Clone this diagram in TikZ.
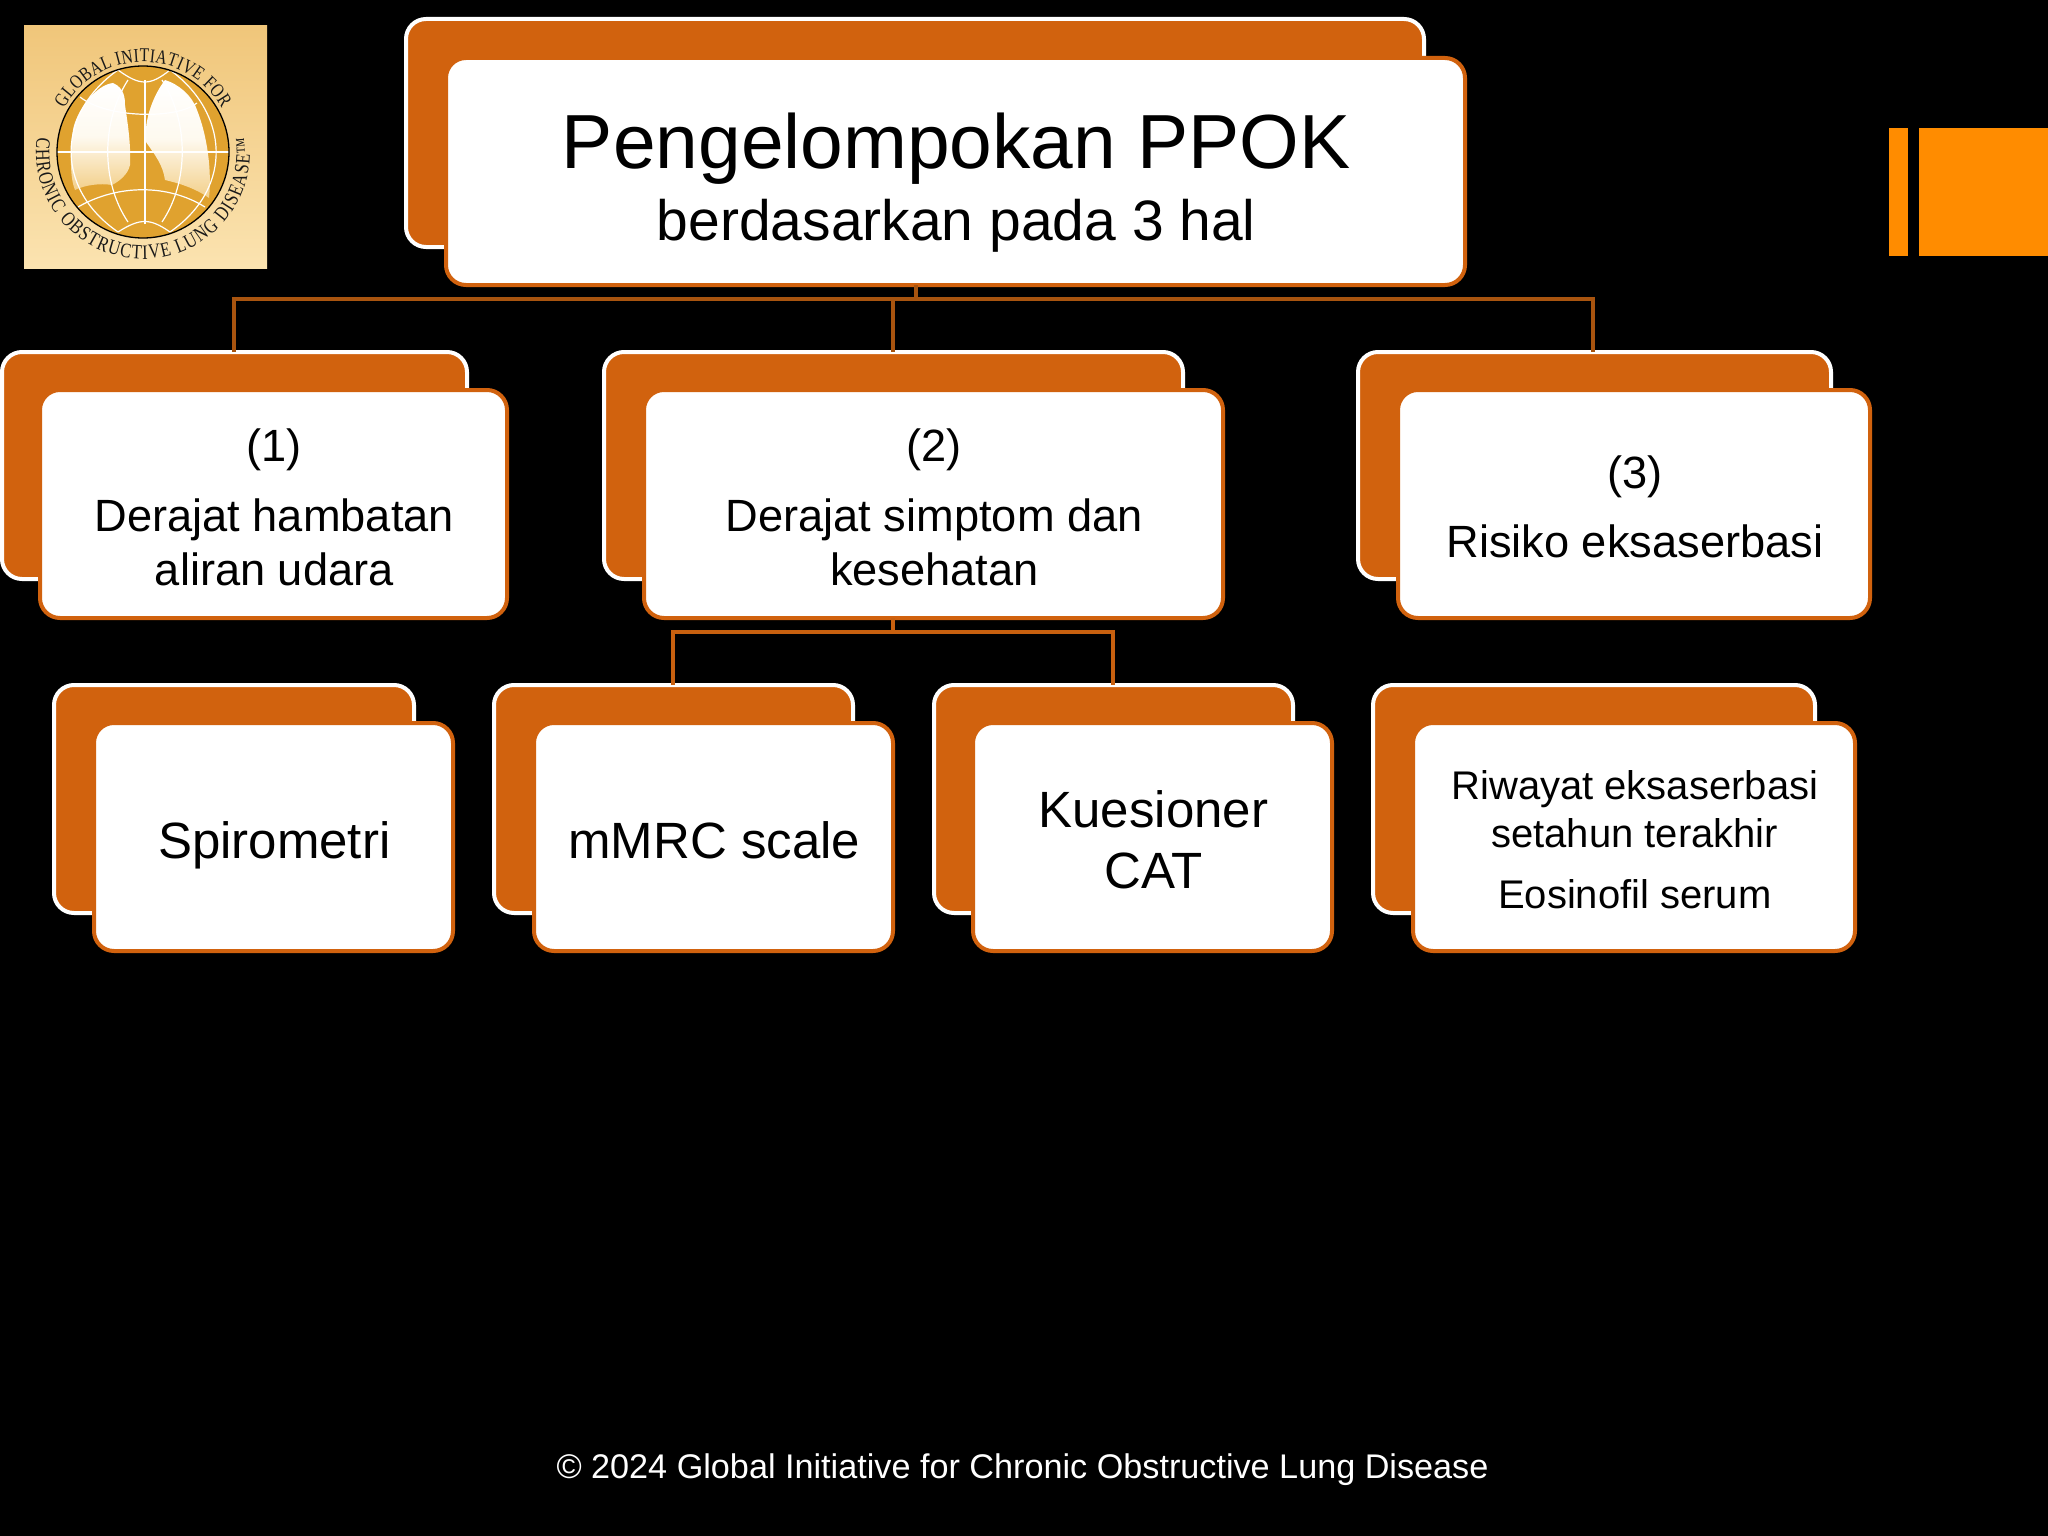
\documentclass[tikz,border=0pt]{standalone}
\usepackage{fontspec}
\setmainfont{Liberation Sans}
\newfontfamily\logofont[FakeStretch=0.8]{Liberation Serif}
\usetikzlibrary{decorations.text,calc}
\definecolor{cardorange}{HTML}{D1620E}
\definecolor{busdark}{HTML}{A8540F}
\definecolor{busmid}{HTML}{C8600F}
\definecolor{barorange}{HTML}{FF8C00}
\definecolor{globegold}{HTML}{E0A22F}
\definecolor{logotop}{HTML}{F0C67A}
\definecolor{logobot}{HTML}{FBE3B0}
\tikzset{
  backcard/.style={draw=white,line width=4pt,fill=cardorange,rounded corners=20pt,inner sep=0pt,outer sep=0pt},
  frontcard/.style={draw=cardorange,line width=4pt,fill=white,rounded corners=20pt,inner sep=0pt,outer sep=0pt},
  cardtext/.style={align=center,text=black,inner sep=0pt},
  busline/.style={line width=4pt,line join=miter},
  gridline/.style={draw=white,line width=1.2pt},
  lung/.style={top color=white,bottom color=logobot!70!globegold,middle color=white!80!logobot},
}
% name, xl, xr, yt, yb
\newcommand\backbox[5]{\node[backcard,minimum width={(#3-#2)*1pt},minimum height={(#5-#4)*1pt}] (#1) at ({(#2+#3)/2},{(#4+#5)/2}) {};}
% name, xl, xr, yt, yb, font size, leading, text offset, text
\newcommand\frontbox[9]{\node[frontcard,minimum width={(#3-#2)*1pt},minimum height={(#5-#4)*1pt}] (#1) at ({(#2+#3)/2},{(#4+#5)/2}) {};
  \node[cardtext,font=\fontsize{#6}{#7}\selectfont] (#1T) at ({(#2+#3)/2+0.8},{(#4+#5)/2+#8}) {#9};}
\begin{document}
\begin{tikzpicture}[x=1pt,y=-1pt]
\useasboundingbox (0,0) rectangle (2048,1536);
\fill[black] (0,0) rectangle (2048,1536);
% side bars
\fill[barorange] (1889,128) rectangle (1908,256);
\fill[barorange] (1919,128) rectangle (2048,256);
% logo
\shade[top color=logotop,bottom color=logobot] (24,26) rectangle (267,268);
\begin{scope}[shift={(143,152)}]
  \fill[globegold] (0,0) circle[radius=86pt];
  \shade[lung] (-30pt,69pt) .. controls (-18pt,64pt) and (-18pt,52pt) .. (-18pt,47pt)
     .. controls (-15pt,27pt) and (-12pt,7pt) .. (-13pt,-13pt)
     .. controls (-15pt,-23pt) and (-25pt,-30pt) .. (-31pt,-33pt)
     .. controls (-43pt,-31pt) and (-58pt,-33pt) .. (-68pt,-38pt)
     .. controls (-73pt,-26pt) and (-73pt,-3pt) .. (-70pt,22pt)
     .. controls (-67pt,40pt) and (-48pt,67pt) .. (-30pt,69pt) -- cycle;
  \shade[lung] (22pt,72pt) .. controls (35pt,68pt) and (49pt,57pt) .. (54pt,42pt)
     .. controls (64pt,17pt) and (69pt,-18pt) .. (66pt,-46pt)
     .. controls (52pt,-36pt) and (35pt,-31pt) .. (22pt,-28pt)
     .. controls (20pt,-13pt) and (12pt,-3pt) .. (3pt,10pt)
     .. controls (1pt,27pt) and (7pt,52pt) .. (22pt,72pt) -- cycle;
  % grid
  \draw[gridline] (-86pt,0pt) -- (86pt,0pt);
  \draw[gridline] (2pt,-72pt) -- (2pt,72pt);
  \draw[gridline] (-25pt,82pt) .. controls (-3pt,66pt) and (7pt,66pt) .. (27pt,82pt);
  \draw[gridline] (-25pt,-80pt) .. controls (-3pt,-66pt) and (7pt,-66pt) .. (27pt,-80pt);
  \draw[gridline] (-25pt,-80pt) .. controls (-90pt,-35pt) and (-85pt,40pt) .. (-25pt,82pt);
  \draw[gridline] (27pt,-80pt) .. controls (92pt,-35pt) and (85pt,40pt) .. (27pt,82pt);
  \draw[gridline] (-15pt,-70pt) .. controls (-42pt,-30pt) and (-42pt,30pt) .. (-15pt,72pt);
  \draw[gridline] (19pt,-70pt) .. controls (46pt,-30pt) and (46pt,30pt) .. (19pt,72pt);
  \draw[gridline] (-63pt,55pt) .. controls (-35pt,33pt) and (35pt,33pt) .. (54pt,49pt);
  \draw[gridline] (-65pt,-55pt) .. controls (-25pt,-32pt) and (25pt,-32pt) .. (62pt,-55pt);
  \draw[line width=1.3pt,black] (0,0) circle[radius=86pt];
  \path[decorate,decoration={text along path,text align=fit to path,
     text={|\logofont\fontsize{19.5}{20}\selectfont\color{black!90}|GLOBAL INITIATIVE FOR}}]
     (151:90pt) arc[start angle=151,end angle=29,radius=90pt];
  \path[decorate,decoration={text along path,text align=fit to path,
     text={|\logofont\fontsize{20.5}{21}\selectfont\color{black!90}|CHRONIC OBSTRUCTIVE LUNG DISEASE™}}]
     (172:107pt) arc[start angle=172,end angle=368,radius=107pt];
\end{scope}
% back cards
\backbox{titleB}{406}{1424}{19}{247}
\backbox{aB}{2}{467}{352}{579}
\backbox{bB}{604}{1183}{352}{579}
\backbox{cB}{1358}{1831}{352}{579}
\backbox{dB}{54}{414}{685}{913}
\backbox{eB}{494}{853}{685}{913}
\backbox{fB}{934}{1293}{685}{913}
\backbox{gB}{1373}{1815}{685}{913}
% front cards
\frontbox{titleF}{446}{1465}{58}{285}{76.7}{71}{11}{Pengelompokan PPOK\\[1pt]{\fontsize{57}{71}\selectfont berdasarkan pada 3 hal}}
\frontbox{aF}{40}{507}{390}{618}{45.2}{54}{3}{(1)\\[16pt]Derajat hambatan\\aliran udara}
\frontbox{bF}{644}{1223}{390}{618}{45.2}{54}{3}{(2)\\[16pt]Derajat simptom dan\\kesehatan}
\frontbox{cF}{1398}{1870}{390}{618}{45.2}{69}{3}{(3)\\Risiko eksaserbasi}
\frontbox{dF}{94}{453}{723}{951}{51}{60}{8}{Spirometri}
\frontbox{eF}{534}{893}{723}{951}{51}{60}{3}{mMRC scale}
\frontbox{fF}{973}{1332}{723}{951}{51}{61}{3}{Kuesioner\\CAT}
\frontbox{gF}{1413}{1855}{723}{951}{40}{48}{3}{Riwayat eksaserbasi\\setahun terakhir\\[13pt]Eosinofil serum}
% connectors
\coordinate (busT) at (916,299);
\coordinate (busTa) at (234,299);
\coordinate (busTb) at (893,299);
\coordinate (busTc) at (1593,299);
\coordinate (busM) at (893,632);
\coordinate (busMe) at (673,632);
\coordinate (busMf) at (1113,632);
\draw[busline,busdark] (busT |- titleF.south) -- (busT);
\draw[busline,busdark] (busTa |- aB.north) -- (busTa) -- (busTc) -- (busTc |- cB.north);
\draw[busline,busdark] (busTb) -- (busTb |- bB.north);
\draw[busline,busmid] (busM |- bF.south) -- (busM);
\draw[busline,busmid] (busMe |- eB.north) -- (busMe) -- (busMf) -- (busMf |- fB.north);
% footer
\node[text=white,font=\fontsize{34.2}{40}\selectfont,inner sep=0pt,anchor=base] (footer) at (1022.5,1478) {© 2024 Global Initiative for Chronic Obstructive Lung Disease};
\end{tikzpicture}
\end{document}
